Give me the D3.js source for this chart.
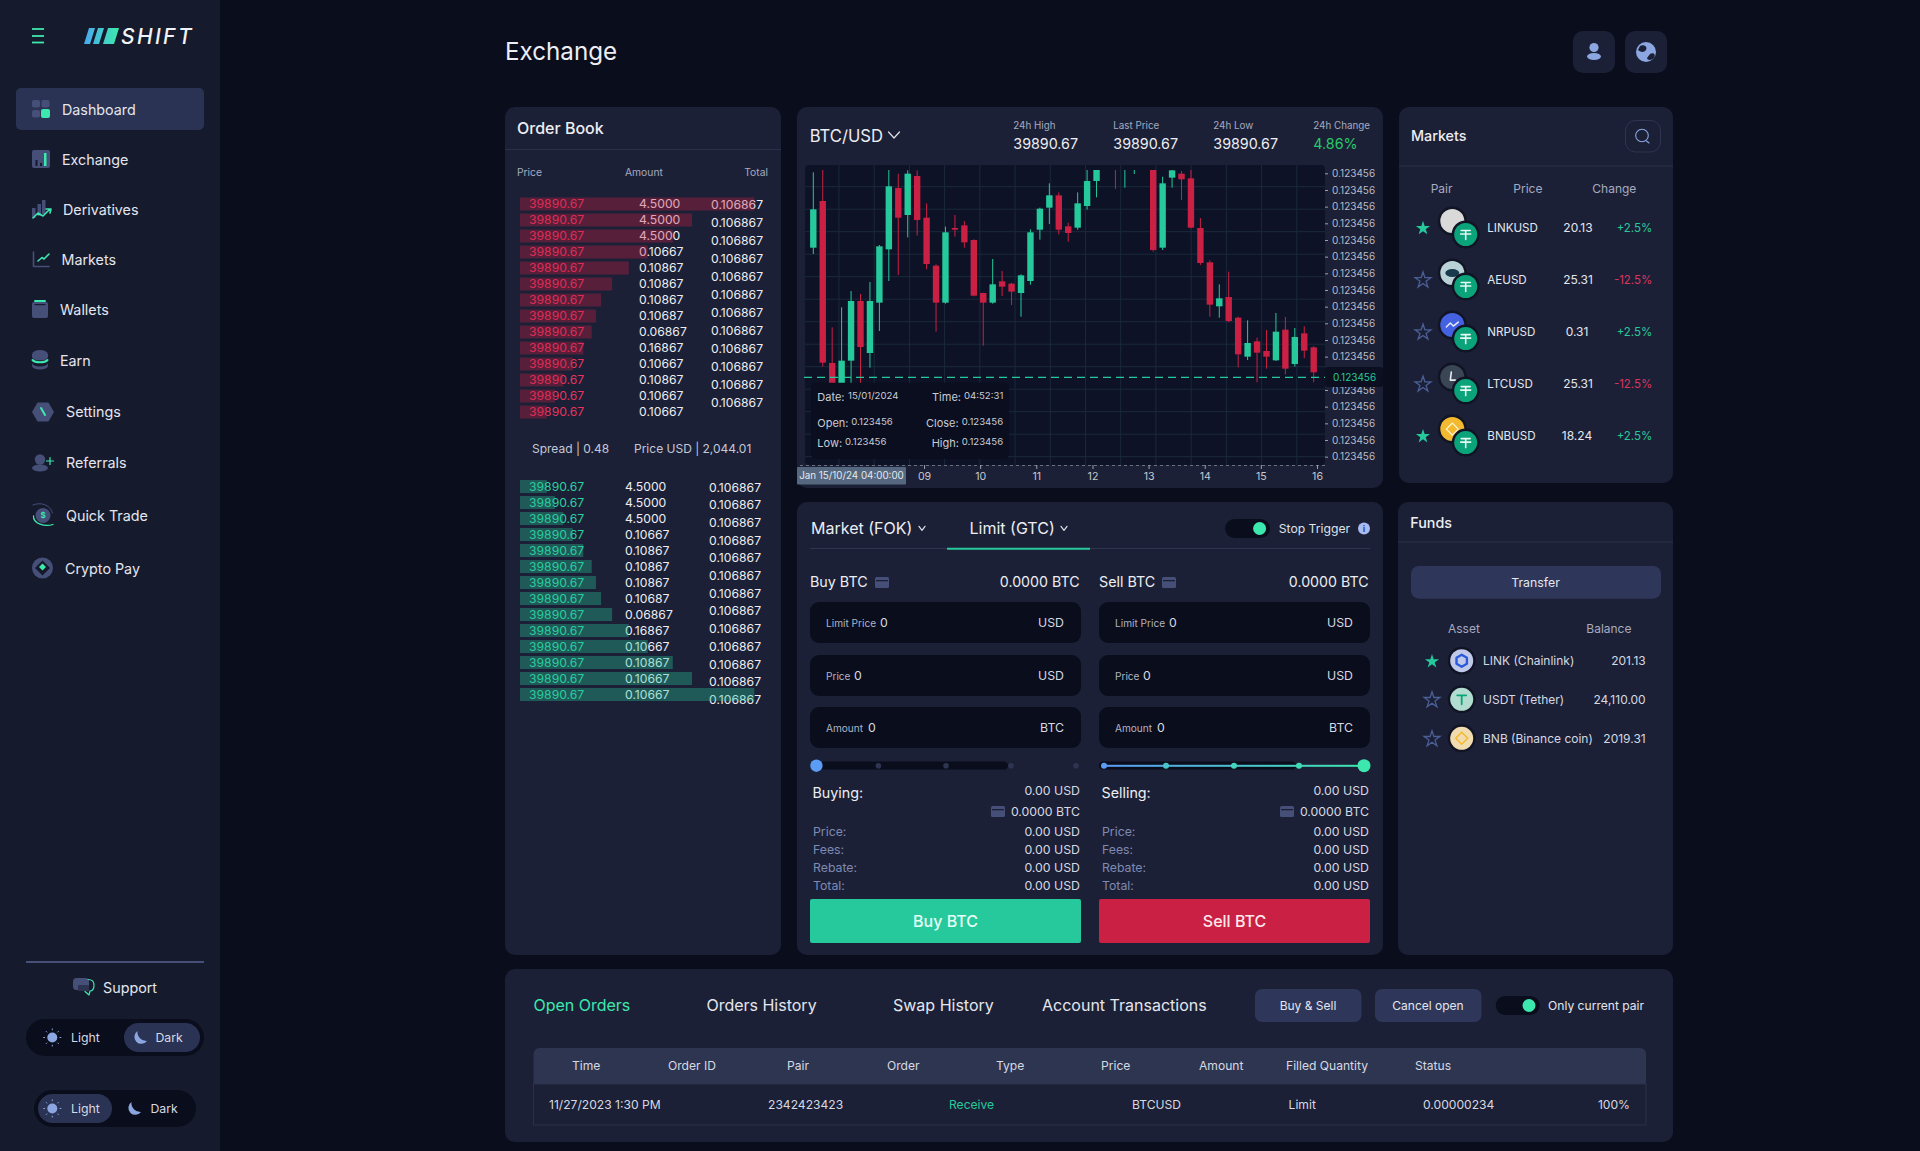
<!DOCTYPE html>
<html>
<head>
<meta charset="utf-8">
<title>Exchange</title>
<script src="https://cdn.jsdelivr.net/npm/d3@7"></script>
<style>
  html, body { margin: 0; padding: 0; background: #0a0d1c; overflow: hidden; }
  svg { display: block; }
  text { font-family: Inter, "Noto Sans", sans-serif; }
</style>
</head>
<body>
<script>
// data
let navLabels    = [ 'Dashboard', 'Exchange', 'Derivatives', 'Markets', 'Wallets', 'Earn', 'Settings', 'Referrals', 'Quick Trade', 'Crypto Pay' ]

let bookPrice    = '39890.67'
let bookAmounts  = [ '4.5000', '4.5000', '4.5000', '0.10667', '0.10867', '0.10867', '0.10867', '0.10687', '0.06867', '0.16867', '0.10667', '0.10867', '0.10667', '0.10667' ]
let bookTotal    = '0.106867'
let sellDepth    = [ 100, 73.4, 65.2, 54.5, 46.4, 39.3, 34.6, 32.4, 30.6, 27, 22.5, 18.5, 14.9, 11.4 ]
let buyDepth     = [ 11.4, 14.9, 18.5, 22.5, 27, 30.6, 32.4, 34.6, 39.3, 46.4, 54.5, 65.2, 73.4, 100 ]

// candles: open, high, low, close in chart units
let candleOpen   = [ 72.44, 88, 34, 25.56, 34.78, 54.67, 37.33, 54.11, 71.89, 92.33, 83.33, 96.33, 82.44, 66.44, 54.11, 79, 79.89, 75, 57.33, 54.11, 61.22, 60.44, 57.33, 61.33, 78.44, 85.78, 89.89, 79.56, 79.11, 86.33, 94.67, 100, 103, 99, 99, 100, 99, 72.44, 95.78, 97.11, 95.56, 79, 67.56, 52.89, 56, 49.11, 36.11, 41.22, 38, 34.89, 45.11, 33.67, 43.89, 39.22 ]
let candleHigh   = [ 97.56, 98.33, 45.89, 52.56, 58, 57, 61, 73.33, 98.33, 97.11, 98.22, 98.22, 87.22, 66.89, 79.44, 83.33, 81.33, 75.22, 57.44, 68.67, 64.67, 60.78, 63.56, 78.56, 85.78, 93.89, 90.89, 80.78, 90.89, 98.33, 98.89, 104, 104, 104, 102, 104, 100, 96.11, 99, 98, 98.33, 82.33, 68.22, 60.22, 64.44, 49.44, 48.22, 42.44, 45, 50.67, 49.33, 45.67, 46.22, 39.56 ]
let candleLow    = [ 70.33, 32.78, 24.44, 23.33, 26.67, 26.67, 32.44, 44.67, 61.33, 63.33, 75.89, 76.44, 65.22, 44.44, 53.78, 76.11, 72.44, 56.22, 39.78, 53.78, 56.33, 53.33, 49.44, 60.11, 75.11, 80.33, 76.89, 74.44, 78.44, 85.11, 89.22, 99, 92, 92.44, 97, 99, 71.11, 71.67, 92.44, 88.33, 78.89, 66.67, 49.44, 49.11, 47.56, 32.56, 35, 27.56, 32.11, 34.67, 30.22, 32.78, 35.56, 27.56 ]
let candleClose  = [ 85.22, 34.11, 26.11, 34.78, 54.67, 39.33, 54.67, 72.89, 92.89, 82.44, 97.11, 81.67, 67, 54.11, 77.56, 78.44, 74.22, 56.44, 54.11, 60.22, 59.44, 57.78, 63.22, 77.56, 85.44, 89.89, 78.44, 77.33, 87.22, 94.67, 98.5, 103, 99, 103, 101, 103, 71.67, 93.89, 98.22, 95.22, 79.11, 67.33, 53.44, 55.56, 48, 36.89, 40.67, 37.44, 36.11, 44.44, 32.11, 42.67, 38.11, 30.89 ]
let lastPrice    = 29.22

let xTickLabels  = [ '09', '10', '11', '12', '13', '14', '15', '16' ]
let xTickIndex   = [ 11.73, 17.67, 23.62, 29.57, 35.51, 41.46, 47.4, 53.35 ]
let yTickValues  = [ 97.23, 91.67, 86.12, 80.56, 75, 69.45, 63.89, 58.34, 52.78, 47.23, 41.67, 36.12, 30.56, 25, 19.45, 13.89, 8.34, 2.78 ]
let yTickLabel   = '0.123456'

let statLabels   = [ '24h High', 'Last Price', '24h Low', '24h Change' ]
let statValues   = [ '39890.67', '39890.67', '39890.67', '4.86%' ]

let marketPairs  = [ 'LINKUSD', 'AEUSD', 'NRPUSD', 'LTCUSD', 'BNBUSD' ]
let marketPrices = [ '20.13', '25.31', '0.31', '25.31', '18.24' ]
let marketChange = [ '+2.5%', '-12.5%', '+2.5%', '-12.5%', '+2.5%' ]
let marketFav    = [ true, false, false, false, true ]

let fundAssets   = [ 'LINK (Chainlink)', 'USDT (Tether)', 'BNB (Binance coin)' ]
let fundBalance  = [ '201.13', '24,110.00', '2019.31' ]
let fundFav      = [ true, false, false ]

let orderTabs    = [ 'Open Orders', 'Orders History', 'Swap History', 'Account Transactions' ]
let tableHeads   = [ 'Time', 'Order ID', 'Pair', 'Order', 'Type', 'Price', 'Amount', 'Filled Quantity', 'Status' ]
let tableRow     = [ '11/27/2023 1:30 PM', '2342423423', 'Receive', 'BTCUSD', 'Limit', '0.00000234', '100%' ]

let summaryLabels = [ 'Price:', 'Fees:', 'Rebate:', 'Total:' ]

// colours
let bg = '#0a0d1c', side = '#161a2d', panel = '#1c2036', slate = '#454f78', line = '#2a3048'
let green = '#26c99b', mint = '#3ce8ae', red = '#c92044', soft = '#a5abc0', blue = '#8ba6e0'

let svg = d3.select( 'body' ).append( 'svg' )
    .attr( 'width', 1920 )
    .attr( 'height', 1151 )

let defs = svg.append( 'defs' )

function gradient( id, stops, x1, x2 ) {
    let g = defs.append( 'linearGradient' ).attr( 'id', id ).attr( 'gradientUnits', 'userSpaceOnUse' )
        .attr( 'x1', x1 ).attr( 'x2', x2 ).attr( 'y1', 0 ).attr( 'y2', 0 )
    stops.forEach( function( s, i ) {
        g.append( 'stop' ).attr( 'offset', i / ( stops.length - 1 ) ).attr( 'stop-color', s )
    })
}
gradient( 'logoGrad', [ '#4aa8f0', '#3ce8ae' ], 84, 118 )
gradient( 'sliderGrad', [ '#5b9cf5', '#3ce8ae' ], 1104, 1364 )

defs.append( 'clipPath' ).attr( 'id', 'plotClip' ).append( 'rect' )
    .attr( 'x', 805 ).attr( 'y', 170 ).attr( 'width', 520 ).attr( 'height', 295 )

function txt( g, x, y, s, size, fill, anchor, weight ) {
    return g.append( 'text' )
        .attr( 'x', x )
        .attr( 'y', y )
        .attr( 'dy', '.35em' )
        .attr( 'font-size', size )
        .attr( 'fill', fill )
        .attr( 'text-anchor', anchor || 'start' )
        .attr( 'font-weight', weight || 400 )
        .text( s )
}

function box( g, x, y, w, h, r, fill ) {
    return g.append( 'rect' )
        .attr( 'x', x ).attr( 'y', y ).attr( 'width', w ).attr( 'height', h )
        .attr( 'rx', r ).attr( 'fill', fill )
}

function hline( g, x1, x2, y, col, sw ) {
    return g.append( 'line' )
        .attr( 'x1', x1 ).attr( 'x2', x2 ).attr( 'y1', y ).attr( 'y2', y )
        .attr( 'stroke', col ).attr( 'stroke-width', sw || 1 )
}

function path( g, d, fill, stroke, sw ) {
    return g.append( 'path' )
        .attr( 'd', d )
        .attr( 'fill', fill || 'none' )
        .attr( 'stroke', stroke || 'none' )
        .attr( 'stroke-width', sw || 1 )
        .attr( 'stroke-linecap', 'round' )
        .attr( 'stroke-linejoin', 'round' )
}

function circle( g, cx, cy, r, fill ) {
    return g.append( 'circle' ).attr( 'cx', cx ).attr( 'cy', cy ).attr( 'r', r ).attr( 'fill', fill )
}

function chevron( g, cx, cy, w, h, col, sw ) {
    path( g, 'M' + ( cx - w ) + ',' + ( cy - h ) + 'L' + cx + ',' + ( cy + h ) + 'L' + ( cx + w ) + ',' + ( cy - h ), null, col, sw )
}

function star( g, cx, cy, fav ) {
    let sym = d3.symbol().type( d3.symbolStar ).size( fav ? 62 : 78 )
    let p = g.append( 'path' ).attr( 'd', sym() ).attr( 'transform', 'translate(' + cx + ',' + ( cy + 0.8 ) + ')' )
    if( fav ) {
        p.attr( 'fill', green )
    } else {
        p.attr( 'fill', 'none' ).attr( 'stroke', '#4a5f96' ).attr( 'stroke-width', 1.3 )
    }
}

function toggle( g, x, y, w, h, kx ) {
    box( g, x, y, w, h, h / 2, bg )
    circle( g, kx, y + h / 2, 6.5, mint )
}

function wallet( g, x, y ) {
    box( g, x, y, 14, 11, 1.5, slate )
    box( g, x + 1, y + 3, 12, 1.3, 0, '#1c2036' )
}

// page
svg.append( 'rect' ).attr( 'width', 1920 ).attr( 'height', 1151 ).attr( 'fill', bg )

// sidebar
let sb = svg.append( 'g' )
box( sb, 0, 0, 220, 1151, 0, side )

;[ 29, 36, 42.5 ].forEach( function( y ) { hline( sb, 32, 44, y, mint, 1.8 ) } )

;[ 0, 1 ].forEach( function( i ) {
    let x = 84 + i * 9
    path( sb, 'M' + ( x + 5 ) + ',28 L' + ( x + 11 ) + ',28 L' + ( x + 6 ) + ',44 L' + x + ',44 Z', 'url(#logoGrad)' )
})
path( sb, 'M108,28 L119,28 L114,44 L103,44 Z', 'url(#logoGrad)' )
txt( sb, 121, 36.5, 'SHIFT', 21, '#f0f2f6', 'start', 500 )
    .attr( 'font-style', 'italic' )
    .attr( 'letter-spacing', 2.4 )

box( sb, 16, 88, 188, 42, 5, '#2a3353' )

let navX = [ 62, 62, 63, 61.5, 60, 60, 66, 66, 66, 65 ]
let navY = [ 110, 160, 210, 260, 310, 360.5, 412, 463, 515.5, 569 ]
navLabels.forEach( function( d, i ) {
    txt( sb, navX[i], navY[i], d, 14.3, '#e4e6ee', 'start', 400 )
})

// nav icons
box( sb, 32, 100, 8, 7.5, 2, slate )
box( sb, 41.5, 100, 8, 7.5, 2, slate )
box( sb, 32, 110, 8, 7.5, 2, slate )
box( sb, 41, 109, 9, 9, 2, mint )

box( sb, 32, 150, 18, 18, 2, slate )
box( sb, 35.5, 160, 2, 6, 0, side )
box( sb, 40, 163, 2, 3, 0, side )
box( sb, 44, 153, 2.5, 13, 0, mint )

box( sb, 32, 208, 3.5, 10, 0, slate )
box( sb, 37.5, 204, 3.5, 12, 0, slate )
box( sb, 42, 200, 3.5, 14, 0, slate )
path( sb, 'M33,218 L38,213 L43,216 L50,209 M46,209 L51,209 L50,213', null, mint, 1.6 )

path( sb, 'M33.5,252 L33.5,266.5 L49,266.5', null, slate, 1.6 )
path( sb, 'M38,261 L42,257.5 L44,259 L49,254', null, mint, 1.6 )

box( sb, 32, 302, 16, 16, 2, slate )
box( sb, 34, 300, 12, 2, 1, mint )
box( sb, 34.5, 304, 11, 1.2, 0, side )

let earn = sb.append( 'g' )
earn.append( 'ellipse' ).attr( 'cx', 40 ).attr( 'cy', 354.5 ).attr( 'rx', 8 ).attr( 'ry', 4.5 ).attr( 'fill', slate )
path( earn, 'M32,354.5 v2.5 a8,3.5 0 0 0 16,0 v-2.5 Z', slate )
path( earn, 'M32.5,360 a8,3.5 0 0 0 15,0', null, mint, 2 )
path( earn, 'M32,363 a8,3.5 0 0 0 16,0 l0,3 a8,3.5 0 0 1 -16,0 Z', slate )

path( sb, 'M32,412 L37.5,402.5 L48.5,402.5 L54,412 L48.5,421.5 L37.5,421.5 Z', slate )
path( sb, 'M41,408 L45,415', null, mint, 2 )

circle( sb, 40, 459.5, 5.2, slate )
sb.append( 'ellipse' ).attr( 'cx', 40 ).attr( 'cy', 468 ).attr( 'rx', 8 ).attr( 'ry', 3.5 ).attr( 'fill', slate )
path( sb, 'M46.5,461 L53.5,461 M50,457.5 L50,464.5', null, mint, 1.2 )

circle( sb, 43, 515.5, 7.5, slate )
txt( sb, 43, 515.5, '$', 8, mint, 'middle', 700 )
path( sb, 'M33,505 C40,502 50,504 52.5,513', null, slate, 1 )
path( sb, 'M33.5,516 C33,524 45,527 53,524.5', null, mint, 1.3 )

circle( sb, 42.5, 568, 10.5, slate )
path( sb, 'M42.5,560.5 L50,568 L42.5,575.5 L35,568 Z', '#141829' )
path( sb, 'M42.5,563.5 L46,567 L42.5,570.5 L39,567 Z', mint )

hline( sb, 26, 204, 962, slate, 2 )
box( sb, 73, 978, 16, 12, 3.5, slate )
box( sb, 78, 985, 11, 6, 1, '#2c3452' )
path( sb, 'M88,979.5 C93,979.5 94,982 94,985 C94,988 93,991 90,991 L89,995 L85,991.5', null, mint, 1.2 )
txt( sb, 103, 987.5, 'Support', 14.3, '#e4e6ee' )

function sun( g, cx, cy ) {
    circle( g, cx, cy, 5, blue )
    d3.range( 8 ).forEach( function( i ) {
        let a = i * Math.PI / 4
        g.append( 'line' )
            .attr( 'x1', cx + 7.3 * Math.cos( a ) ).attr( 'y1', cy + 7.3 * Math.sin( a ) )
            .attr( 'x2', cx + 9 * Math.cos( a ) ).attr( 'y2', cy + 9 * Math.sin( a ) )
            .attr( 'stroke', blue ).attr( 'stroke-width', 1 )
    })
}
function moon( g, cx, cy ) {
    path( g, 'M' + ( cx - 2.5 ) + ',' + ( cy - 6.5 ) + ' A7,7 0 1 0 ' + ( cx + 7 ) + ',' + ( cy + 3.5 ) + ' A9,9 0 0 1 ' + ( cx - 2.5 ) + ',' + ( cy - 6.5 ) + ' Z', blue )
}

box( sb, 26, 1019, 178, 37, 18.5, bg )
box( sb, 124, 1023, 76, 29, 14.5, '#2a3353' )
sun( sb, 52.3, 1037.5 )
txt( sb, 71, 1037.5, 'Light', 12.3, '#d6d9e2' )
moon( sb, 140, 1037.5 )
txt( sb, 155.5, 1037.5, 'Dark', 12.3, '#d6d9e2' )

box( sb, 34, 1090, 162, 37, 18.5, bg )
box( sb, 38, 1094, 74, 29, 14.5, '#2a3353' )
sun( sb, 52.3, 1108.5 )
txt( sb, 71, 1108.5, 'Light', 12.3, '#d6d9e2' )
moon( sb, 134, 1108.5 )
txt( sb, 150.5, 1108.5, 'Dark', 12.3, '#d6d9e2' )

// top bar
let topBar = svg.append( 'g' )
txt( topBar, 505, 52, 'Exchange', 24.2, '#eceef3', 'start', 400 )
box( topBar, 1573, 31, 42, 42, 10, panel )
box( topBar, 1625, 31, 42, 42, 10, panel )
circle( topBar, 1594, 47.5, 4.6, blue )
topBar.append( 'ellipse' ).attr( 'cx', 1594 ).attr( 'cy', 56.5 ).attr( 'rx', 7 ).attr( 'ry', 3.5 ).attr( 'fill', blue )
circle( topBar, 1646, 52, 10, blue )
path( topBar, 'M1640,46 C1644,44 1648,47 1646,50 C1644,53 1640,52 1638,50 Z M1650,54 C1654,52 1656,55 1654,58 C1651,61 1647,60 1647,58 Z', panel )

// order book
let ob = svg.append( 'g' )
box( ob, 505, 107, 276, 848, 10, panel )
txt( ob, 517, 128.5, 'Order Book', 16, '#eceef3', 'start', 500 )
hline( ob, 505, 781, 149.5, line )
txt( ob, 517, 172, 'Price', 10.3, soft )
txt( ob, 625, 172, 'Amount', 10.3, soft )
txt( ob, 768, 172, 'Total', 10.3, soft, 'end' )

let depthX = d3.scaleLinear().domain( [ 0, 100 ] ).range( [ 0, 234.3 ] )

function bookSide( col, barCol, firstY, amountX, totalX, totalY, totalCount, totalStep, depth ) {
    let rowY = d3.scaleLinear().domain( [ 0, 1 ] ).range( [ firstY, firstY + 16 ] )
    let totY = d3.scaleLinear().domain( [ 0, 1 ] ).range( [ totalY, totalY + totalStep ] )
    let g = ob.append( 'g' )
    bookAmounts.forEach( function( a, i ) {
        txt( g, 529, rowY( i ), bookPrice, 12.2, col )
        txt( g, amountX, rowY( i ), a, 12.2, '#eceef3' )
        if( i < totalCount ) {
            txt( g, totalX, totY( i ), bookTotal, 12.2, '#eceef3' )
        }
    })
    g.selectAll( 'rect.depth' )
        .data( depth )
        .enter()
        .append( 'rect' )
        .attr( 'class', 'depth' )
        .attr( 'x', 520 )
        .attr( 'y', function( d, i ) { return rowY( i ) - 6.5 } )
        .attr( 'width', function( d ) { return depthX( d ) } )
        .attr( 'height', 13 )
        .attr( 'fill', barCol )
        .attr( 'fill-opacity', 0.35 )
}
bookSide( '#e5355f', red, 204, 639, 711, 204.8, 12, 18, sellDepth )
bookSide( '#2bd0a0', green, 486.5, 625, 709, 487.3, 13, 17.7, buyDepth )

txt( ob, 532, 448.8, 'Spread | 0.48', 12, '#c4c8d6' )
txt( ob, 634, 448.8, 'Price USD | 2,044.01', 12, '#c4c8d6' )

// candle chart panel
let cp = svg.append( 'g' )
box( cp, 797, 107, 586, 381, 10, panel )
txt( cp, 809.7, 135.7, 'BTC/USD', 16.6, '#eceef3', 'start', 400 )
chevron( cp, 894, 135, 5.5, 3, '#dfe2ea', 1.2 )

let statX = [ 1013.3, 1113.3, 1213.3, 1313.3 ]
statLabels.forEach( function( d, i ) {
    txt( cp, statX[i], 125.7, d, 9.8, soft )
    txt( cp, statX[i], 144, statValues[i], 14.3, i == 3 ? '#27c86a' : '#eceef3' )
})

box( cp, 805, 165, 520, 300, 4, '#0d1226' )

// scales
let priceY = d3.scaleLinear().domain( [ 0, 100 ] ).range( [ 465, 165 ] )
let indexX = d3.scaleLinear().domain( [ 0, 53 ] ).range( [ 813.3, 1313.7 ] )

// grid
let gridRows = d3.range( 13 ).map( function( i ) { return 92.77 - i * 7.5 } )
let gridCols = d3.range( 14 ).map( function( i ) { return 2.72 + i * 3.73 } )

cp.append( 'g' ).selectAll( 'line' ).data( gridRows ).enter().append( 'line' )
    .attr( 'x1', 805 ).attr( 'x2', 1325 )
    .attr( 'y1', function( d ) { return priceY( d ) } )
    .attr( 'y2', function( d ) { return priceY( d ) } )
    .attr( 'stroke', '#1a2a3c' )
cp.append( 'g' ).selectAll( 'line' ).data( gridCols ).enter().append( 'line' )
    .attr( 'y1', 165 ).attr( 'y2', 465 )
    .attr( 'x1', function( d ) { return indexX( d ) } )
    .attr( 'x2', function( d ) { return indexX( d ) } )
    .attr( 'stroke', '#1a2a3c' )

// candles
let candles = candleOpen.map( function( o, i ) {
    return { i: i, open: o, high: candleHigh[i], low: candleLow[i], close: candleClose[i] }
})
let cg = cp.append( 'g' ).attr( 'clip-path', 'url(#plotClip)' )
let candleCol = function( d ) { return d.close >= d.open ? green : red }

cg.selectAll( 'line.wick' ).data( candles ).enter().append( 'line' )
    .attr( 'class', 'wick' )
    .attr( 'x1', function( d ) { return indexX( d.i ) } )
    .attr( 'x2', function( d ) { return indexX( d.i ) } )
    .attr( 'y1', function( d ) { return priceY( d.high ) } )
    .attr( 'y2', function( d ) { return priceY( d.low ) } )
    .attr( 'stroke', candleCol )
    .attr( 'stroke-width', 1 )

cg.selectAll( 'rect.body' ).data( candles ).enter().append( 'rect' )
    .attr( 'class', 'body' )
    .attr( 'x', function( d ) { return indexX( d.i ) - 3.2 } )
    .attr( 'width', 6.4 )
    .attr( 'y', function( d ) { return priceY( Math.max( d.open, d.close ) ) } )
    .attr( 'height', function( d ) { return Math.max( 1, Math.abs( priceY( d.open ) - priceY( d.close ) ) ) } )
    .attr( 'fill', candleCol )

// last price line
cp.append( 'line' )
    .attr( 'x1', 804 ).attr( 'x2', 1325 )
    .attr( 'y1', priceY( lastPrice ) ).attr( 'y2', priceY( lastPrice ) )
    .attr( 'stroke', green ).attr( 'stroke-width', 1.2 ).attr( 'stroke-dasharray', '8 5' )

// axes
let yAxis = d3.axisRight( priceY )
    .tickValues( yTickValues )
    .tickFormat( function() { return yTickLabel } )
    .tickSize( 3 )
    .tickPadding( 4 )
let yG = cp.append( 'g' ).attr( 'transform', 'translate(1325,0)' ).call( yAxis )
yG.select( '.domain' ).remove()
yG.selectAll( 'line' ).attr( 'stroke', '#9aa0b0' )
yG.selectAll( 'text' ).attr( 'fill', '#b8bcc8' ).attr( 'font-size', 10 ).attr( 'font-family', 'Inter' )

let xAxis = d3.axisBottom( indexX )
    .tickValues( xTickIndex )
    .tickFormat( function( d, i ) { return xTickLabels[i] } )
    .tickSize( 4 )
    .tickPadding( 3 )
let xG = cp.append( 'g' ).attr( 'transform', 'translate(0,465)' ).call( xAxis )
xG.select( '.domain' ).attr( 'stroke', '#6a7080' ).attr( 'stroke-dasharray', '3 3' ).attr( 'd', 'M800,0.5H1325' )
xG.selectAll( 'line' ).attr( 'stroke', '#9aa0b0' )
xG.selectAll( 'text' ).attr( 'fill', '#c4c8d2' ).attr( 'font-size', 10.6 ).attr( 'font-family', 'Inter' )

// current price tag
box( cp, 1325, 367, 58, 20, 3, '#0b0f1f' )
txt( cp, 1333, priceY( lastPrice ), yTickLabel, 10, green )

// date tag
box( cp, 797, 467, 109, 17.5, 1, '#55687f' )
txt( cp, 851.5, 476, 'Jan 15/10/24 04:00:00', 9.8, '#e4e8ee', 'middle' )

// tooltip
box( cp, 811, 382.7, 198, 76.3, 5, '#0b0e1e' )
let tipLabels = [ 'Date:', 'Time:', 'Open:', 'Close:', 'Low:', 'High:' ]
let tipValues = [ '15/01/2024', '04:52:31', '0.123456', '0.123456', '0.123456', '0.123456' ]
let tipLabX   = [ 817.3, 932, 817.3, 926, 817.3, 931.7 ]
let tipValX   = [ 848, 964, 851.3, 961.7, 845, 961.7 ]
let tipLabY   = [ 397, 397, 423, 423, 443, 443 ]
tipLabels.forEach( function( d, i ) {
    txt( cp, tipLabX[i], tipLabY[i], d, 11, '#c8ccd6' )
    txt( cp, tipValX[i], tipLabY[i] - 1.5, tipValues[i], 9.6, '#c8ccd6' )
})

// trade panel
let tp = svg.append( 'g' )
box( tp, 797, 502, 586, 453, 10, panel )
txt( tp, 811, 528.3, 'Market (FOK)', 16, '#eceef3' )
chevron( tp, 922, 528.3, 3, 2, '#dfe2ea', 1.2 )
txt( tp, 969.5, 528.3, 'Limit (GTC)', 16, '#eceef3' )
chevron( tp, 1064, 528.3, 3, 2, '#dfe2ea', 1.2 )
hline( tp, 810, 1370, 548.5, '#2e3551' )
hline( tp, 947, 1090, 548.7, green, 2 )
toggle( tp, 1225, 519, 45, 19, 1259.6 )
txt( tp, 1278.7, 528.5, 'Stop Trigger', 12.2, '#dfe2ea' )
circle( tp, 1364, 528.5, 6, '#a9bcf0' )
txt( tp, 1364, 528.5, 'i', 9, '#2e47a0', 'middle', 700 )

let formLabels = [ 'Limit Price', 'Price', 'Amount' ]
let formUnits  = [ 'USD', 'USD', 'BTC' ]
let formTop    = [ 602, 655, 707 ]
let formZeroX  = [ 54, 28, 42 ]

function tradeSide( x0, name, iconX, kind ) {
    let right = x0 + 270
    txt( tp, x0, 582, name, 14.3, '#eceef3' )
    wallet( tp, iconX, 577 )
    txt( tp, right - 0.5, 582, '0.0000 BTC', 14.2, '#eceef3', 'end' )
    formLabels.forEach( function( d, i ) {
        box( tp, x0, formTop[i], 271, 41, 9, bg )
        txt( tp, x0 + 16, formTop[i] + 21, d, 10.1, '#b0b4c4' )
        txt( tp, x0 + 16 + formZeroX[i], formTop[i] + 20.5, '0', 12.3, '#d6d9e2' )
        txt( tp, x0 + 254, formTop[i] + 20.5, formUnits[i], 12.3, '#d6d9e2', 'end' )
    })
    txt( tp, x0 + 2.5, 793, kind, 14.3, '#eceef3' )
    txt( tp, right, 790.7, '0.00 USD', 12.3, '#d6d9e2', 'end' )
    wallet( tp, right - 89, 806 )
    txt( tp, right, 811.7, '0.0000 BTC', 12.3, '#d6d9e2', 'end' )
    summaryLabels.forEach( function( d, i ) {
        txt( tp, x0 + 3, 831.7 + i * 18, d, 12.3, '#7d8ab3' )
        txt( tp, right, 831.7 + i * 18, '0.00 USD', 12.3, '#d6d9e2', 'end' )
    })
}
tradeSide( 810, 'Buy BTC', 875, 'Buying:' )
tradeSide( 1099, 'Sell BTC', 1162, 'Selling:' )

// sliders
box( tp, 810, 761.5, 198, 8, 4, bg )
;[ 878.4, 946, 1011, 1076 ].forEach( function( x ) { circle( tp, x, 765.7, 2.8, '#2e3551' ) } )
circle( tp, 816.4, 765.7, 6.2, '#5b9cf5' )

box( tp, 1099, 761.5, 197, 8, 4, bg )
tp.append( 'rect' ).attr( 'x', 1104 ).attr( 'y', 764.8 ).attr( 'width', 260 ).attr( 'height', 2 ).attr( 'fill', 'url(#sliderGrad)' )
circle( tp, 1104, 765.7, 3, '#5b9cf5' )
circle( tp, 1166, 765.7, 3, '#48c4c8' )
circle( tp, 1234, 765.7, 3, '#44d4bc' )
circle( tp, 1299, 765.7, 3, '#40dcb4' )
circle( tp, 1364, 765.7, 6.5, mint )

box( tp, 810, 899, 271, 44, 2, green )
txt( tp, 945.5, 921, 'Buy BTC', 16, '#e6fff6', 'middle', 500 )
box( tp, 1099, 899, 271, 44, 2, red )
txt( tp, 1234.5, 921, 'Sell BTC', 16, '#ffe8ec', 'middle', 500 )

// coin icons
function tether( g, cx, cy ) {
    circle( g, cx, cy, 14, '#111424' )
    circle( g, cx, cy, 11.5, '#0aa37a' )
    path( g, 'M' + ( cx - 4.5 ) + ',' + ( cy - 4 ) + 'L' + ( cx + 4.5 ) + ',' + ( cy - 4 ) + 'M' + cx + ',' + ( cy - 4 ) + 'L' + cx + ',' + ( cy + 5 ) + 'M' + ( cx - 5 ) + ',' + ( cy - 0.5 ) + 'L' + ( cx + 5 ) + ',' + ( cy - 0.5 ), null, '#e8f8f2', 1.6 )
}

function coin( g, name, cx, cy, r ) {
    circle( g, cx, cy, r + 2.5, '#111424' )
    if( name == 'LINK' ) {
        circle( g, cx, cy, r, '#d9d9d9' )
    } else if( name == 'AE' ) {
        circle( g, cx, cy, r, '#b9d2d8' )
        g.append( 'ellipse' ).attr( 'cx', cx ).attr( 'cy', cy ).attr( 'rx', 7 ).attr( 'ry', 4 ).attr( 'fill', '#173a4c' )
    } else if( name == 'NRP' ) {
        circle( g, cx, cy, r, '#4461e2' )
        path( g, 'M' + ( cx - 6 ) + ',' + ( cy + 2 ) + 'L' + ( cx - 2 ) + ',' + ( cy - 2 ) + 'L' + ( cx + 1 ) + ',' + ( cy + 1 ) + 'L' + ( cx + 6 ) + ',' + ( cy - 3 ), null, '#e8ecff', 1.4 )
    } else if( name == 'LTC' ) {
        circle( g, cx, cy, r, '#3a4556' )
        path( g, 'M' + ( cx - 1 ) + ',' + ( cy - 5 ) + 'L' + ( cx - 2 ) + ',' + ( cy + 3 ) + 'L' + ( cx + 3 ) + ',' + ( cy + 3 ), null, '#e8eaf0', 1.6 )
    } else if( name == 'BNB' ) {
        circle( g, cx, cy, r, '#f3ba2f' )
        path( g, 'M' + cx + ',' + ( cy - 6 ) + 'L' + ( cx + 6 ) + ',' + cy + 'L' + cx + ',' + ( cy + 6 ) + 'L' + ( cx - 6 ) + ',' + cy + 'Z', null, '#fff6d8', 1.3 )
    }
}

// markets panel
let mp = svg.append( 'g' )
box( mp, 1399, 107, 274, 376, 10, panel )
txt( mp, 1411, 136.4, 'Markets', 14.3, '#eceef3', 'start', 500 )
hline( mp, 1399, 1673, 166, line )
box( mp, 1625.5, 120.5, 35, 31.5, 10, 'none' ).attr( 'stroke', '#2e3551' )
mp.append( 'circle' ).attr( 'cx', 1642 ).attr( 'cy', 135.5 ).attr( 'r', 6.3 ).attr( 'fill', 'none' ).attr( 'stroke', blue ).attr( 'stroke-width', 1.1 )
path( mp, 'M1646.5,141 L1649,143', null, blue, 1.1 )

txt( mp, 1430.7, 188.5, 'Pair', 12, soft )
txt( mp, 1513.3, 188.5, 'Price', 12, soft )
txt( mp, 1592.3, 188.5, 'Change', 12, soft )

let marketCoins = [ 'LINK', 'AE', 'NRP', 'LTC', 'BNB' ]
let marketRowY  = [ 227.5, 279.5, 331.6, 383.6, 435.6 ]
let marketRowPx = [ 1578, 1578, 1577, 1578, 1577 ]
marketPairs.forEach( function( d, i ) {
    let y = marketRowY[i]
    star( mp, 1423, y, marketFav[i] )
    coin( mp, marketCoins[i], 1452.3, y - 6.5, 12 )
    tether( mp, 1465.7, y + 7 )
    txt( mp, 1487.3, y, d, 11.6, '#e4e6ee' )
    txt( mp, marketRowPx[i], y, marketPrices[i], 12, '#e4e6ee', 'middle' )
    txt( mp, 1652.3, y, marketChange[i], 11.5, marketChange[i][0] == '+' ? green : '#d8355f', 'end' )
})

// funds panel
let fp = svg.append( 'g' )
box( fp, 1398, 502, 275, 453, 10, panel )
txt( fp, 1410.3, 522.8, 'Funds', 14.3, '#eceef3', 'start', 500 )
hline( fp, 1398, 1673, 542, line )
box( fp, 1411, 566, 250, 32.7, 8, '#2e3759' )
txt( fp, 1535.5, 582.3, 'Transfer', 12.3, '#e4e6ee', 'middle' )
txt( fp, 1448, 628.5, 'Asset', 12, soft )
txt( fp, 1586.3, 628.5, 'Balance', 12, soft )

let fundRowY = [ 660.7, 699.3, 738.3 ]
fundAssets.forEach( function( d, i ) {
    let y = fundRowY[i]
    star( fp, 1432, y, fundFav[i] )
    circle( fp, 1461.7, y, 14, '#111424' )
    if( i == 0 ) {
        circle( fp, 1461.7, y, 11.5, '#c0c9ea' )
        path( fp, 'M1461.7,' + ( y - 6 ) + 'l5.2,3 l0,6 l-5.2,3 l-5.2,-3 l0,-6 Z', null, '#2a5ada', 2.4 )
    } else if( i == 1 ) {
        circle( fp, 1461.7, y, 11.5, '#b2dccf' )
        path( fp, 'M1457.2,' + ( y - 4 ) + 'L1466.2,' + ( y - 4 ) + 'M1461.7,' + ( y - 4 ) + 'L1461.7,' + ( y + 5 ), null, '#0aa37a', 1.8 )
    } else {
        circle( fp, 1461.7, y, 11.5, '#f0dcae' )
        path( fp, 'M1461.7,' + ( y - 6 ) + 'L1467.7,' + y + 'L1461.7,' + ( y + 6 ) + 'L1455.7,' + y + 'Z', null, '#f3ba2f', 1.5 )
    }
    txt( fp, 1483, y, d, 12, '#d6d9e2' )
    txt( fp, 1645.7, y, fundBalance[i], 12, '#d6d9e2', 'end' )
})

// orders panel
let op = svg.append( 'g' )
box( op, 505, 969, 1168, 173, 10, panel )
let tabX = [ 533.4, 706.4, 893, 1042 ]
orderTabs.forEach( function( d, i ) {
    txt( op, tabX[i], 1005.7, d, 16, i == 0 ? mint : '#e4e6ee' )
})
box( op, 1255, 989, 106.5, 33, 7, '#2e3759' )
txt( op, 1308, 1005.5, 'Buy & Sell', 12, '#e4e6ee', 'middle' )
box( op, 1375, 989, 106.5, 33, 7, '#2e3759' )
txt( op, 1428, 1005.5, 'Cancel open', 12, '#e4e6ee', 'middle' )
toggle( op, 1495.7, 996, 44, 19, 1529 )
txt( op, 1548, 1005.5, 'Only current pair', 12.1, '#e4e6ee' )

box( op, 533.5, 1048, 1112.5, 77, 6, '#2e3551' )
op.append( 'rect' ).attr( 'x', 533.5 ).attr( 'y', 1084 ).attr( 'width', 1112.5 ).attr( 'height', 41 )
    .attr( 'fill', panel ).attr( 'stroke', '#2a3048' )

let headX = [ 572, 668, 787, 887, 996, 1101, 1199, 1286, 1415 ]
tableHeads.forEach( function( d, i ) {
    txt( op, headX[i], 1066, d, 12.1, '#d6d9e2' )
})
let cellX = [ 549, 768, 949, 1132, 1288.6, 1423, 1630 ]
tableRow.forEach( function( d, i ) {
    txt( op, cellX[i], 1105, d, 12.1, d == 'Receive' ? green : '#d6d9e2', i == 6 ? 'end' : 'start' )
})
</script>
</body>
</html>
